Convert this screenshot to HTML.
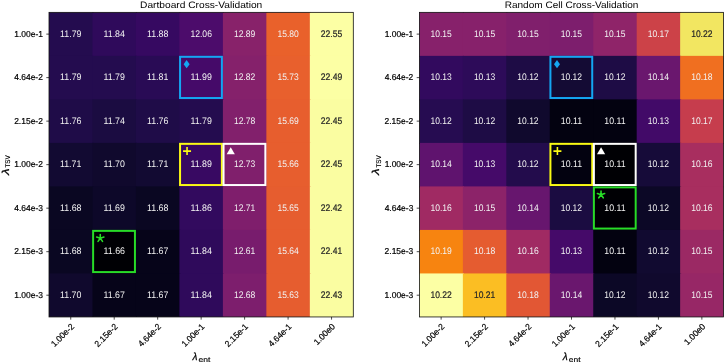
<!DOCTYPE html><html><head><meta charset="utf-8"><title>Cross-Validation heatmaps</title><style>html,body{margin:0;padding:0;background:#fff;width:725px;height:362px;overflow:hidden}svg{display:block;will-change:transform}text{font-family:"Liberation Sans",sans-serif;text-rendering:geometricPrecision}</style></head><body>
<svg width="725" height="362" viewBox="0 0 725 362">
<rect x="49.00" y="12.35" width="44.47" height="44.51" fill="#240c4f"/>
<rect x="92.47" y="12.35" width="44.47" height="44.51" fill="#2f0a5b"/>
<rect x="135.94" y="12.35" width="44.47" height="44.51" fill="#360961"/>
<rect x="179.41" y="12.35" width="44.47" height="44.51" fill="#4c0c6b"/>
<rect x="222.89" y="12.35" width="44.47" height="44.51" fill="#88226a"/>
<rect x="266.36" y="12.35" width="44.47" height="44.51" fill="#e9612b"/>
<rect x="309.83" y="12.35" width="43.47" height="44.51" fill="#fcffa4"/>
<rect x="49.00" y="55.86" width="44.47" height="44.51" fill="#240c4f"/>
<rect x="92.47" y="55.86" width="44.47" height="44.51" fill="#240c4f"/>
<rect x="135.94" y="55.86" width="44.47" height="44.51" fill="#290b55"/>
<rect x="179.41" y="55.86" width="44.47" height="44.51" fill="#450a69"/>
<rect x="222.89" y="55.86" width="44.47" height="44.51" fill="#85216b"/>
<rect x="266.36" y="55.86" width="44.47" height="44.51" fill="#e8602d"/>
<rect x="309.83" y="55.86" width="43.47" height="44.51" fill="#fcffa4"/>
<rect x="49.00" y="99.38" width="44.47" height="44.51" fill="#1f0c48"/>
<rect x="92.47" y="99.38" width="44.47" height="44.51" fill="#1b0c41"/>
<rect x="135.94" y="99.38" width="44.47" height="44.51" fill="#1f0c48"/>
<rect x="179.41" y="99.38" width="44.47" height="44.51" fill="#240c4f"/>
<rect x="222.89" y="99.38" width="44.47" height="44.51" fill="#82206c"/>
<rect x="266.36" y="99.38" width="44.47" height="44.51" fill="#e75e2e"/>
<rect x="309.83" y="99.38" width="43.47" height="44.51" fill="#fafda1"/>
<rect x="49.00" y="142.89" width="44.47" height="44.51" fill="#120a32"/>
<rect x="92.47" y="142.89" width="44.47" height="44.51" fill="#10092d"/>
<rect x="135.94" y="142.89" width="44.47" height="44.51" fill="#120a32"/>
<rect x="179.41" y="142.89" width="44.47" height="44.51" fill="#380962"/>
<rect x="222.89" y="142.89" width="44.47" height="44.51" fill="#801f6c"/>
<rect x="266.36" y="142.89" width="44.47" height="44.51" fill="#e75e2e"/>
<rect x="309.83" y="142.89" width="43.47" height="44.51" fill="#fafda1"/>
<rect x="49.00" y="186.41" width="44.47" height="44.51" fill="#0a0722"/>
<rect x="92.47" y="186.41" width="44.47" height="44.51" fill="#0d0829"/>
<rect x="135.94" y="186.41" width="44.47" height="44.51" fill="#0a0722"/>
<rect x="179.41" y="186.41" width="44.47" height="44.51" fill="#320a5e"/>
<rect x="222.89" y="186.41" width="44.47" height="44.51" fill="#7f1e6c"/>
<rect x="266.36" y="186.41" width="44.47" height="44.51" fill="#e65d2f"/>
<rect x="309.83" y="186.41" width="43.47" height="44.51" fill="#fafda1"/>
<rect x="49.00" y="229.92" width="44.47" height="44.51" fill="#0a0722"/>
<rect x="92.47" y="229.92" width="44.47" height="44.51" fill="#000004"/>
<rect x="135.94" y="229.92" width="44.47" height="44.51" fill="#060419"/>
<rect x="179.41" y="229.92" width="44.47" height="44.51" fill="#2f0a5b"/>
<rect x="222.89" y="229.92" width="44.47" height="44.51" fill="#781c6d"/>
<rect x="266.36" y="229.92" width="44.47" height="44.51" fill="#e65d2f"/>
<rect x="309.83" y="229.92" width="43.47" height="44.51" fill="#fafda1"/>
<rect x="49.00" y="273.44" width="44.47" height="43.51" fill="#10092d"/>
<rect x="92.47" y="273.44" width="44.47" height="43.51" fill="#060419"/>
<rect x="135.94" y="273.44" width="44.47" height="43.51" fill="#060419"/>
<rect x="179.41" y="273.44" width="44.47" height="43.51" fill="#2f0a5b"/>
<rect x="222.89" y="273.44" width="44.47" height="43.51" fill="#7d1e6d"/>
<rect x="266.36" y="273.44" width="44.47" height="43.51" fill="#e65d2f"/>
<rect x="309.83" y="273.44" width="43.47" height="43.51" fill="#fafda1"/>
<text x="60.03" y="36.53" font-size="9.50" fill="#f2f2f2" textLength="21.46" lengthAdjust="spacingAndGlyphs">11.79</text>
<text x="103.50" y="36.53" font-size="9.50" fill="#f2f2f2" textLength="21.44" lengthAdjust="spacingAndGlyphs">11.84</text>
<text x="146.97" y="36.53" font-size="9.50" fill="#f2f2f2" textLength="21.45" lengthAdjust="spacingAndGlyphs">11.88</text>
<text x="190.46" y="36.53" font-size="9.50" fill="#f2f2f2" textLength="21.45" lengthAdjust="spacingAndGlyphs">12.06</text>
<text x="233.94" y="36.53" font-size="9.50" fill="#f2f2f2" textLength="21.42" lengthAdjust="spacingAndGlyphs">12.89</text>
<text x="277.41" y="36.53" font-size="9.50" fill="#f2f2f2" textLength="21.37" lengthAdjust="spacingAndGlyphs">15.80</text>
<text x="320.83" y="36.53" font-size="9.50" fill="#262626" stroke="#262626" stroke-width="0.2" textLength="21.31" lengthAdjust="spacingAndGlyphs">22.55</text>
<text x="60.03" y="80.05" font-size="9.50" fill="#f2f2f2" textLength="21.46" lengthAdjust="spacingAndGlyphs">11.79</text>
<text x="103.50" y="80.05" font-size="9.50" fill="#f2f2f2" textLength="21.46" lengthAdjust="spacingAndGlyphs">11.79</text>
<text x="146.98" y="80.05" font-size="9.50" fill="#f2f2f2" textLength="21.30" lengthAdjust="spacingAndGlyphs">11.81</text>
<text x="190.44" y="80.05" font-size="9.50" fill="#f2f2f2" textLength="21.46" lengthAdjust="spacingAndGlyphs">11.99</text>
<text x="233.94" y="80.05" font-size="9.50" fill="#f2f2f2" textLength="21.22" lengthAdjust="spacingAndGlyphs">12.82</text>
<text x="277.41" y="80.05" font-size="9.50" fill="#f2f2f2" textLength="21.29" lengthAdjust="spacingAndGlyphs">15.73</text>
<text x="320.83" y="80.05" font-size="9.50" fill="#262626" stroke="#262626" stroke-width="0.2" textLength="21.47" lengthAdjust="spacingAndGlyphs">22.49</text>
<text x="60.03" y="123.56" font-size="9.50" fill="#f2f2f2" textLength="21.49" lengthAdjust="spacingAndGlyphs">11.76</text>
<text x="103.50" y="123.56" font-size="9.50" fill="#f2f2f2" textLength="21.44" lengthAdjust="spacingAndGlyphs">11.74</text>
<text x="146.97" y="123.56" font-size="9.50" fill="#f2f2f2" textLength="21.49" lengthAdjust="spacingAndGlyphs">11.76</text>
<text x="190.44" y="123.56" font-size="9.50" fill="#f2f2f2" textLength="21.46" lengthAdjust="spacingAndGlyphs">11.79</text>
<text x="233.94" y="123.56" font-size="9.50" fill="#f2f2f2" textLength="21.41" lengthAdjust="spacingAndGlyphs">12.78</text>
<text x="277.41" y="123.56" font-size="9.50" fill="#f2f2f2" textLength="21.42" lengthAdjust="spacingAndGlyphs">15.69</text>
<text x="320.83" y="123.56" font-size="9.50" fill="#262626" stroke="#262626" stroke-width="0.2" textLength="21.31" lengthAdjust="spacingAndGlyphs">22.45</text>
<text x="60.03" y="167.07" font-size="9.50" fill="#f2f2f2" textLength="21.30" lengthAdjust="spacingAndGlyphs">11.71</text>
<text x="103.50" y="167.07" font-size="9.50" fill="#f2f2f2" textLength="21.40" lengthAdjust="spacingAndGlyphs">11.70</text>
<text x="146.98" y="167.07" font-size="9.50" fill="#f2f2f2" textLength="21.30" lengthAdjust="spacingAndGlyphs">11.71</text>
<text x="190.44" y="167.07" font-size="9.50" fill="#f2f2f2" textLength="21.46" lengthAdjust="spacingAndGlyphs">11.89</text>
<text x="233.94" y="167.07" font-size="9.50" fill="#f2f2f2" textLength="21.29" lengthAdjust="spacingAndGlyphs">12.73</text>
<text x="277.41" y="167.07" font-size="9.50" fill="#f2f2f2" textLength="21.45" lengthAdjust="spacingAndGlyphs">15.66</text>
<text x="320.83" y="167.07" font-size="9.50" fill="#262626" stroke="#262626" stroke-width="0.2" textLength="21.31" lengthAdjust="spacingAndGlyphs">22.45</text>
<text x="60.03" y="210.59" font-size="9.50" fill="#f2f2f2" textLength="21.45" lengthAdjust="spacingAndGlyphs">11.68</text>
<text x="103.50" y="210.59" font-size="9.50" fill="#f2f2f2" textLength="21.46" lengthAdjust="spacingAndGlyphs">11.69</text>
<text x="146.97" y="210.59" font-size="9.50" fill="#f2f2f2" textLength="21.45" lengthAdjust="spacingAndGlyphs">11.68</text>
<text x="190.44" y="210.59" font-size="9.50" fill="#f2f2f2" textLength="21.49" lengthAdjust="spacingAndGlyphs">11.86</text>
<text x="233.94" y="210.59" font-size="9.50" fill="#f2f2f2" textLength="21.26" lengthAdjust="spacingAndGlyphs">12.71</text>
<text x="277.41" y="210.59" font-size="9.50" fill="#f2f2f2" textLength="21.25" lengthAdjust="spacingAndGlyphs">15.65</text>
<text x="320.83" y="210.59" font-size="9.50" fill="#262626" stroke="#262626" stroke-width="0.2" textLength="21.28" lengthAdjust="spacingAndGlyphs">22.42</text>
<text x="60.03" y="254.10" font-size="9.50" fill="#f2f2f2" textLength="21.45" lengthAdjust="spacingAndGlyphs">11.68</text>
<text x="103.50" y="254.10" font-size="9.50" fill="#f2f2f2" textLength="21.49" lengthAdjust="spacingAndGlyphs">11.66</text>
<text x="146.98" y="254.10" font-size="9.50" fill="#f2f2f2" textLength="21.38" lengthAdjust="spacingAndGlyphs">11.67</text>
<text x="190.44" y="254.10" font-size="9.50" fill="#f2f2f2" textLength="21.44" lengthAdjust="spacingAndGlyphs">11.84</text>
<text x="233.94" y="254.10" font-size="9.50" fill="#f2f2f2" textLength="21.26" lengthAdjust="spacingAndGlyphs">12.61</text>
<text x="277.41" y="254.10" font-size="9.50" fill="#f2f2f2" textLength="21.40" lengthAdjust="spacingAndGlyphs">15.64</text>
<text x="320.83" y="254.10" font-size="9.50" fill="#262626" stroke="#262626" stroke-width="0.2" textLength="21.31" lengthAdjust="spacingAndGlyphs">22.41</text>
<text x="60.03" y="297.62" font-size="9.50" fill="#f2f2f2" textLength="21.40" lengthAdjust="spacingAndGlyphs">11.70</text>
<text x="103.50" y="297.62" font-size="9.50" fill="#f2f2f2" textLength="21.38" lengthAdjust="spacingAndGlyphs">11.67</text>
<text x="146.98" y="297.62" font-size="9.50" fill="#f2f2f2" textLength="21.38" lengthAdjust="spacingAndGlyphs">11.67</text>
<text x="190.44" y="297.62" font-size="9.50" fill="#f2f2f2" textLength="21.44" lengthAdjust="spacingAndGlyphs">11.84</text>
<text x="233.94" y="297.62" font-size="9.50" fill="#f2f2f2" textLength="21.41" lengthAdjust="spacingAndGlyphs">12.68</text>
<text x="277.41" y="297.62" font-size="9.50" fill="#f2f2f2" textLength="21.29" lengthAdjust="spacingAndGlyphs">15.63</text>
<text x="320.83" y="297.62" font-size="9.50" fill="#262626" stroke="#262626" stroke-width="0.2" textLength="21.35" lengthAdjust="spacingAndGlyphs">22.43</text>
<rect x="49.00" y="12.35" width="304.3" height="304.6" fill="none" stroke="#111" stroke-width="0.8"/>
<text x="140.07" y="7.75" font-size="9.40" fill="#000" textLength="122.19" lengthAdjust="spacingAndGlyphs">Dartboard Cross-Validation</text>
<line x1="46.30" y1="34.11" x2="49.00" y2="34.11" stroke="#000" stroke-width="0.7"/>
<text x="14.23" y="36.87" font-size="8.60" fill="#000" stroke="#000" stroke-width="0.2" textLength="28.69" lengthAdjust="spacingAndGlyphs">1.00e-1</text>
<line x1="46.30" y1="77.62" x2="49.00" y2="77.62" stroke="#000" stroke-width="0.7"/>
<text x="14.23" y="80.38" font-size="8.60" fill="#000" stroke="#000" stroke-width="0.2" textLength="28.65" lengthAdjust="spacingAndGlyphs">4.64e-2</text>
<line x1="46.30" y1="121.14" x2="49.00" y2="121.14" stroke="#000" stroke-width="0.7"/>
<text x="14.17" y="123.90" font-size="8.60" fill="#000" stroke="#000" stroke-width="0.2" textLength="28.72" lengthAdjust="spacingAndGlyphs">2.15e-2</text>
<line x1="46.30" y1="164.65" x2="49.00" y2="164.65" stroke="#000" stroke-width="0.7"/>
<text x="14.23" y="167.41" font-size="8.60" fill="#000" stroke="#000" stroke-width="0.2" textLength="28.66" lengthAdjust="spacingAndGlyphs">1.00e-2</text>
<line x1="46.30" y1="208.16" x2="49.00" y2="208.16" stroke="#000" stroke-width="0.7"/>
<text x="14.23" y="210.92" font-size="8.60" fill="#000" stroke="#000" stroke-width="0.2" textLength="28.72" lengthAdjust="spacingAndGlyphs">4.64e-3</text>
<line x1="46.30" y1="251.68" x2="49.00" y2="251.68" stroke="#000" stroke-width="0.7"/>
<text x="14.17" y="254.44" font-size="8.60" fill="#000" stroke="#000" stroke-width="0.2" textLength="28.78" lengthAdjust="spacingAndGlyphs">2.15e-3</text>
<line x1="46.30" y1="295.19" x2="49.00" y2="295.19" stroke="#000" stroke-width="0.7"/>
<text x="14.22" y="297.95" font-size="8.60" fill="#000" stroke="#000" stroke-width="0.2" textLength="28.73" lengthAdjust="spacingAndGlyphs">1.00e-3</text>
<line x1="70.74" y1="316.95" x2="70.74" y2="319.65" stroke="#000" stroke-width="0.7"/>
<g transform="translate(70.89,322.80) rotate(-45)"><text x="-28.97" y="5.78" font-size="8.60" fill="#000" stroke="#000" stroke-width="0.2" textLength="28.66" lengthAdjust="spacingAndGlyphs">1.00e-2</text></g>
<line x1="114.21" y1="316.95" x2="114.21" y2="319.65" stroke="#000" stroke-width="0.7"/>
<g transform="translate(114.36,322.80) rotate(-45)"><text x="-29.03" y="5.78" font-size="8.60" fill="#000" stroke="#000" stroke-width="0.2" textLength="28.72" lengthAdjust="spacingAndGlyphs">2.15e-2</text></g>
<line x1="157.68" y1="316.95" x2="157.68" y2="319.65" stroke="#000" stroke-width="0.7"/>
<g transform="translate(157.83,322.80) rotate(-45)"><text x="-28.97" y="5.78" font-size="8.60" fill="#000" stroke="#000" stroke-width="0.2" textLength="28.65" lengthAdjust="spacingAndGlyphs">4.64e-2</text></g>
<line x1="201.15" y1="316.95" x2="201.15" y2="319.65" stroke="#000" stroke-width="0.7"/>
<g transform="translate(201.30,322.80) rotate(-45)"><text x="-28.97" y="5.78" font-size="8.60" fill="#000" stroke="#000" stroke-width="0.2" textLength="28.69" lengthAdjust="spacingAndGlyphs">1.00e-1</text></g>
<line x1="244.62" y1="316.95" x2="244.62" y2="319.65" stroke="#000" stroke-width="0.7"/>
<g transform="translate(244.77,322.80) rotate(-45)"><text x="-29.03" y="5.78" font-size="8.60" fill="#000" stroke="#000" stroke-width="0.2" textLength="28.75" lengthAdjust="spacingAndGlyphs">2.15e-1</text></g>
<line x1="288.09" y1="316.95" x2="288.09" y2="319.65" stroke="#000" stroke-width="0.7"/>
<g transform="translate(288.24,322.80) rotate(-45)"><text x="-28.97" y="5.78" font-size="8.60" fill="#000" stroke="#000" stroke-width="0.2" textLength="28.68" lengthAdjust="spacingAndGlyphs">4.64e-1</text></g>
<line x1="331.56" y1="316.95" x2="331.56" y2="319.65" stroke="#000" stroke-width="0.7"/>
<g transform="translate(331.71,322.80) rotate(-45)"><text x="-26.24" y="5.78" font-size="8.60" fill="#000" stroke="#000" stroke-width="0.2" textLength="26.00" lengthAdjust="spacingAndGlyphs">1.00e0</text></g>
<text x="192.45" y="359.60" font-size="10.40" font-style="italic" fill="#000" stroke="#000" stroke-width="0.25" textLength="4.97" lengthAdjust="spacingAndGlyphs">λ</text>
<text x="198.46" y="361.60" font-size="7.20" fill="#000" stroke="#000" stroke-width="0.15" textLength="11.83" lengthAdjust="spacingAndGlyphs">ent</text>
<g transform="translate(8.60,175.8) rotate(-90)"><text x="0.90" y="0.00" font-size="10.00" font-style="italic" fill="#000" stroke="#000" stroke-width="0.25" textLength="6.60" lengthAdjust="spacingAndGlyphs">λ</text><text x="8.28" y="1.60" font-size="6.80" fill="#000" stroke="#000" stroke-width="0.15" textLength="12.16" lengthAdjust="spacingAndGlyphs">TSV</text></g>
<rect x="419.40" y="12.35" width="44.46" height="44.51" fill="#87216b"/>
<rect x="462.86" y="12.35" width="44.46" height="44.51" fill="#87216b"/>
<rect x="506.31" y="12.35" width="44.46" height="44.51" fill="#801f6c"/>
<rect x="549.77" y="12.35" width="44.46" height="44.51" fill="#7d1e6d"/>
<rect x="593.23" y="12.35" width="44.46" height="44.51" fill="#8f2469"/>
<rect x="636.69" y="12.35" width="44.46" height="44.51" fill="#cc4248"/>
<rect x="680.14" y="12.35" width="43.46" height="44.51" fill="#f2e661"/>
<rect x="419.40" y="55.86" width="44.46" height="44.51" fill="#320a5e"/>
<rect x="462.86" y="55.86" width="44.46" height="44.51" fill="#2d0b59"/>
<rect x="506.31" y="55.86" width="44.46" height="44.51" fill="#1e0c45"/>
<rect x="549.77" y="55.86" width="44.46" height="44.51" fill="#140b34"/>
<rect x="593.23" y="55.86" width="44.46" height="44.51" fill="#1e0c45"/>
<rect x="636.69" y="55.86" width="44.46" height="44.51" fill="#6a176e"/>
<rect x="680.14" y="55.86" width="43.46" height="44.51" fill="#f06f20"/>
<rect x="419.40" y="99.38" width="44.46" height="44.51" fill="#260c51"/>
<rect x="462.86" y="99.38" width="44.46" height="44.51" fill="#1e0c45"/>
<rect x="506.31" y="99.38" width="44.46" height="44.51" fill="#10092d"/>
<rect x="549.77" y="99.38" width="44.46" height="44.51" fill="#030210"/>
<rect x="593.23" y="99.38" width="44.46" height="44.51" fill="#030210"/>
<rect x="636.69" y="99.38" width="44.46" height="44.51" fill="#420a68"/>
<rect x="680.14" y="99.38" width="43.46" height="44.51" fill="#c63d4d"/>
<rect x="419.40" y="142.89" width="44.46" height="44.51" fill="#5f136e"/>
<rect x="462.86" y="142.89" width="44.46" height="44.51" fill="#450a69"/>
<rect x="506.31" y="142.89" width="44.46" height="44.51" fill="#230c4c"/>
<rect x="549.77" y="142.89" width="44.46" height="44.51" fill="#030210"/>
<rect x="593.23" y="142.89" width="44.46" height="44.51" fill="#000004"/>
<rect x="636.69" y="142.89" width="44.46" height="44.51" fill="#160b39"/>
<rect x="680.14" y="142.89" width="43.46" height="44.51" fill="#a82e5f"/>
<rect x="419.40" y="186.41" width="44.46" height="44.51" fill="#a02a63"/>
<rect x="462.86" y="186.41" width="44.46" height="44.51" fill="#8c2369"/>
<rect x="506.31" y="186.41" width="44.46" height="44.51" fill="#67166e"/>
<rect x="549.77" y="186.41" width="44.46" height="44.51" fill="#1b0c41"/>
<rect x="593.23" y="186.41" width="44.46" height="44.51" fill="#000004"/>
<rect x="636.69" y="186.41" width="44.46" height="44.51" fill="#0c0826"/>
<rect x="680.14" y="186.41" width="43.46" height="44.51" fill="#a82e5f"/>
<rect x="419.40" y="229.92" width="44.46" height="44.51" fill="#f78410"/>
<rect x="462.86" y="229.92" width="44.46" height="44.51" fill="#e55c30"/>
<rect x="506.31" y="229.92" width="44.46" height="44.51" fill="#a02a63"/>
<rect x="549.77" y="229.92" width="44.46" height="44.51" fill="#450a69"/>
<rect x="593.23" y="229.92" width="44.46" height="44.51" fill="#030210"/>
<rect x="636.69" y="229.92" width="44.46" height="44.51" fill="#110a30"/>
<rect x="680.14" y="229.92" width="43.46" height="44.51" fill="#9b2964"/>
<rect x="419.40" y="273.44" width="44.46" height="43.51" fill="#fcffa4"/>
<rect x="462.86" y="273.44" width="44.46" height="43.51" fill="#fbbe23"/>
<rect x="506.31" y="273.44" width="44.46" height="43.51" fill="#e25734"/>
<rect x="549.77" y="273.44" width="44.46" height="43.51" fill="#6a176e"/>
<rect x="593.23" y="273.44" width="44.46" height="43.51" fill="#0c0826"/>
<rect x="636.69" y="273.44" width="44.46" height="43.51" fill="#10092d"/>
<rect x="680.14" y="273.44" width="43.46" height="43.51" fill="#972766"/>
<text x="430.45" y="36.53" font-size="9.50" fill="#f2f2f2" textLength="21.25" lengthAdjust="spacingAndGlyphs">10.15</text>
<text x="473.91" y="36.53" font-size="9.50" fill="#f2f2f2" textLength="21.25" lengthAdjust="spacingAndGlyphs">10.15</text>
<text x="517.36" y="36.53" font-size="9.50" fill="#f2f2f2" textLength="21.25" lengthAdjust="spacingAndGlyphs">10.15</text>
<text x="560.82" y="36.53" font-size="9.50" fill="#f2f2f2" textLength="21.25" lengthAdjust="spacingAndGlyphs">10.15</text>
<text x="604.28" y="36.53" font-size="9.50" fill="#f2f2f2" textLength="21.25" lengthAdjust="spacingAndGlyphs">10.15</text>
<text x="647.73" y="36.53" font-size="9.50" fill="#f2f2f2" textLength="21.34" lengthAdjust="spacingAndGlyphs">10.17</text>
<text x="691.19" y="36.53" font-size="9.50" fill="#262626" stroke="#262626" stroke-width="0.2" textLength="21.22" lengthAdjust="spacingAndGlyphs">10.22</text>
<text x="430.45" y="80.05" font-size="9.50" fill="#f2f2f2" textLength="21.29" lengthAdjust="spacingAndGlyphs">10.13</text>
<text x="473.90" y="80.05" font-size="9.50" fill="#f2f2f2" textLength="21.29" lengthAdjust="spacingAndGlyphs">10.13</text>
<text x="517.36" y="80.05" font-size="9.50" fill="#f2f2f2" textLength="21.22" lengthAdjust="spacingAndGlyphs">10.12</text>
<text x="560.82" y="80.05" font-size="9.50" fill="#f2f2f2" textLength="21.22" lengthAdjust="spacingAndGlyphs">10.12</text>
<text x="604.28" y="80.05" font-size="9.50" fill="#f2f2f2" textLength="21.22" lengthAdjust="spacingAndGlyphs">10.12</text>
<text x="647.73" y="80.05" font-size="9.50" fill="#f2f2f2" textLength="21.40" lengthAdjust="spacingAndGlyphs">10.14</text>
<text x="691.19" y="80.05" font-size="9.50" fill="#f2f2f2" textLength="21.41" lengthAdjust="spacingAndGlyphs">10.18</text>
<text x="430.45" y="123.56" font-size="9.50" fill="#f2f2f2" textLength="21.22" lengthAdjust="spacingAndGlyphs">10.12</text>
<text x="473.91" y="123.56" font-size="9.50" fill="#f2f2f2" textLength="21.22" lengthAdjust="spacingAndGlyphs">10.12</text>
<text x="517.36" y="123.56" font-size="9.50" fill="#f2f2f2" textLength="21.22" lengthAdjust="spacingAndGlyphs">10.12</text>
<text x="560.80" y="123.56" font-size="9.50" fill="#f2f2f2" textLength="21.30" lengthAdjust="spacingAndGlyphs">10.11</text>
<text x="604.26" y="123.56" font-size="9.50" fill="#f2f2f2" textLength="21.30" lengthAdjust="spacingAndGlyphs">10.11</text>
<text x="647.73" y="123.56" font-size="9.50" fill="#f2f2f2" textLength="21.29" lengthAdjust="spacingAndGlyphs">10.13</text>
<text x="691.19" y="123.56" font-size="9.50" fill="#f2f2f2" textLength="21.34" lengthAdjust="spacingAndGlyphs">10.17</text>
<text x="430.44" y="167.07" font-size="9.50" fill="#f2f2f2" textLength="21.40" lengthAdjust="spacingAndGlyphs">10.14</text>
<text x="473.90" y="167.07" font-size="9.50" fill="#f2f2f2" textLength="21.29" lengthAdjust="spacingAndGlyphs">10.13</text>
<text x="517.36" y="167.07" font-size="9.50" fill="#f2f2f2" textLength="21.22" lengthAdjust="spacingAndGlyphs">10.12</text>
<text x="560.80" y="167.07" font-size="9.50" fill="#f2f2f2" textLength="21.30" lengthAdjust="spacingAndGlyphs">10.11</text>
<text x="604.26" y="167.07" font-size="9.50" fill="#f2f2f2" textLength="21.30" lengthAdjust="spacingAndGlyphs">10.11</text>
<text x="647.74" y="167.07" font-size="9.50" fill="#f2f2f2" textLength="21.22" lengthAdjust="spacingAndGlyphs">10.12</text>
<text x="691.19" y="167.07" font-size="9.50" fill="#f2f2f2" textLength="21.45" lengthAdjust="spacingAndGlyphs">10.16</text>
<text x="430.44" y="210.59" font-size="9.50" fill="#f2f2f2" textLength="21.45" lengthAdjust="spacingAndGlyphs">10.16</text>
<text x="473.91" y="210.59" font-size="9.50" fill="#f2f2f2" textLength="21.25" lengthAdjust="spacingAndGlyphs">10.15</text>
<text x="517.36" y="210.59" font-size="9.50" fill="#f2f2f2" textLength="21.40" lengthAdjust="spacingAndGlyphs">10.14</text>
<text x="560.82" y="210.59" font-size="9.50" fill="#f2f2f2" textLength="21.22" lengthAdjust="spacingAndGlyphs">10.12</text>
<text x="604.26" y="210.59" font-size="9.50" fill="#f2f2f2" textLength="21.30" lengthAdjust="spacingAndGlyphs">10.11</text>
<text x="647.74" y="210.59" font-size="9.50" fill="#f2f2f2" textLength="21.22" lengthAdjust="spacingAndGlyphs">10.12</text>
<text x="691.19" y="210.59" font-size="9.50" fill="#f2f2f2" textLength="21.45" lengthAdjust="spacingAndGlyphs">10.16</text>
<text x="430.44" y="254.10" font-size="9.50" fill="#f2f2f2" textLength="21.42" lengthAdjust="spacingAndGlyphs">10.19</text>
<text x="473.90" y="254.10" font-size="9.50" fill="#f2f2f2" textLength="21.41" lengthAdjust="spacingAndGlyphs">10.18</text>
<text x="517.36" y="254.10" font-size="9.50" fill="#f2f2f2" textLength="21.45" lengthAdjust="spacingAndGlyphs">10.16</text>
<text x="560.82" y="254.10" font-size="9.50" fill="#f2f2f2" textLength="21.29" lengthAdjust="spacingAndGlyphs">10.13</text>
<text x="604.26" y="254.10" font-size="9.50" fill="#f2f2f2" textLength="21.30" lengthAdjust="spacingAndGlyphs">10.11</text>
<text x="647.74" y="254.10" font-size="9.50" fill="#f2f2f2" textLength="21.22" lengthAdjust="spacingAndGlyphs">10.12</text>
<text x="691.19" y="254.10" font-size="9.50" fill="#f2f2f2" textLength="21.25" lengthAdjust="spacingAndGlyphs">10.15</text>
<text x="430.45" y="297.62" font-size="9.50" fill="#262626" stroke="#262626" stroke-width="0.2" textLength="21.22" lengthAdjust="spacingAndGlyphs">10.22</text>
<text x="473.91" y="297.62" font-size="9.50" fill="#262626" stroke="#262626" stroke-width="0.2" textLength="21.26" lengthAdjust="spacingAndGlyphs">10.21</text>
<text x="517.36" y="297.62" font-size="9.50" fill="#f2f2f2" textLength="21.41" lengthAdjust="spacingAndGlyphs">10.18</text>
<text x="560.82" y="297.62" font-size="9.50" fill="#f2f2f2" textLength="21.40" lengthAdjust="spacingAndGlyphs">10.14</text>
<text x="604.28" y="297.62" font-size="9.50" fill="#f2f2f2" textLength="21.22" lengthAdjust="spacingAndGlyphs">10.12</text>
<text x="647.74" y="297.62" font-size="9.50" fill="#f2f2f2" textLength="21.22" lengthAdjust="spacingAndGlyphs">10.12</text>
<text x="691.19" y="297.62" font-size="9.50" fill="#f2f2f2" textLength="21.25" lengthAdjust="spacingAndGlyphs">10.15</text>
<rect x="419.40" y="12.35" width="304.2" height="304.6" fill="none" stroke="#111" stroke-width="0.8"/>
<text x="504.70" y="7.75" font-size="9.40" fill="#000" textLength="133.63" lengthAdjust="spacingAndGlyphs">Random Cell Cross-Validation</text>
<line x1="416.70" y1="34.11" x2="419.40" y2="34.11" stroke="#000" stroke-width="0.7"/>
<text x="384.63" y="36.87" font-size="8.60" fill="#000" stroke="#000" stroke-width="0.2" textLength="28.69" lengthAdjust="spacingAndGlyphs">1.00e-1</text>
<line x1="416.70" y1="77.62" x2="419.40" y2="77.62" stroke="#000" stroke-width="0.7"/>
<text x="384.63" y="80.38" font-size="8.60" fill="#000" stroke="#000" stroke-width="0.2" textLength="28.65" lengthAdjust="spacingAndGlyphs">4.64e-2</text>
<line x1="416.70" y1="121.14" x2="419.40" y2="121.14" stroke="#000" stroke-width="0.7"/>
<text x="384.57" y="123.90" font-size="8.60" fill="#000" stroke="#000" stroke-width="0.2" textLength="28.72" lengthAdjust="spacingAndGlyphs">2.15e-2</text>
<line x1="416.70" y1="164.65" x2="419.40" y2="164.65" stroke="#000" stroke-width="0.7"/>
<text x="384.63" y="167.41" font-size="8.60" fill="#000" stroke="#000" stroke-width="0.2" textLength="28.66" lengthAdjust="spacingAndGlyphs">1.00e-2</text>
<line x1="416.70" y1="208.16" x2="419.40" y2="208.16" stroke="#000" stroke-width="0.7"/>
<text x="384.63" y="210.92" font-size="8.60" fill="#000" stroke="#000" stroke-width="0.2" textLength="28.72" lengthAdjust="spacingAndGlyphs">4.64e-3</text>
<line x1="416.70" y1="251.68" x2="419.40" y2="251.68" stroke="#000" stroke-width="0.7"/>
<text x="384.57" y="254.44" font-size="8.60" fill="#000" stroke="#000" stroke-width="0.2" textLength="28.78" lengthAdjust="spacingAndGlyphs">2.15e-3</text>
<line x1="416.70" y1="295.19" x2="419.40" y2="295.19" stroke="#000" stroke-width="0.7"/>
<text x="384.62" y="297.95" font-size="8.60" fill="#000" stroke="#000" stroke-width="0.2" textLength="28.73" lengthAdjust="spacingAndGlyphs">1.00e-3</text>
<line x1="441.13" y1="316.95" x2="441.13" y2="319.65" stroke="#000" stroke-width="0.7"/>
<g transform="translate(441.28,322.80) rotate(-45)"><text x="-28.97" y="5.78" font-size="8.60" fill="#000" stroke="#000" stroke-width="0.2" textLength="28.66" lengthAdjust="spacingAndGlyphs">1.00e-2</text></g>
<line x1="484.59" y1="316.95" x2="484.59" y2="319.65" stroke="#000" stroke-width="0.7"/>
<g transform="translate(484.74,322.80) rotate(-45)"><text x="-29.03" y="5.78" font-size="8.60" fill="#000" stroke="#000" stroke-width="0.2" textLength="28.72" lengthAdjust="spacingAndGlyphs">2.15e-2</text></g>
<line x1="528.04" y1="316.95" x2="528.04" y2="319.65" stroke="#000" stroke-width="0.7"/>
<g transform="translate(528.19,322.80) rotate(-45)"><text x="-28.97" y="5.78" font-size="8.60" fill="#000" stroke="#000" stroke-width="0.2" textLength="28.65" lengthAdjust="spacingAndGlyphs">4.64e-2</text></g>
<line x1="571.50" y1="316.95" x2="571.50" y2="319.65" stroke="#000" stroke-width="0.7"/>
<g transform="translate(571.65,322.80) rotate(-45)"><text x="-28.97" y="5.78" font-size="8.60" fill="#000" stroke="#000" stroke-width="0.2" textLength="28.69" lengthAdjust="spacingAndGlyphs">1.00e-1</text></g>
<line x1="614.96" y1="316.95" x2="614.96" y2="319.65" stroke="#000" stroke-width="0.7"/>
<g transform="translate(615.11,322.80) rotate(-45)"><text x="-29.03" y="5.78" font-size="8.60" fill="#000" stroke="#000" stroke-width="0.2" textLength="28.75" lengthAdjust="spacingAndGlyphs">2.15e-1</text></g>
<line x1="658.41" y1="316.95" x2="658.41" y2="319.65" stroke="#000" stroke-width="0.7"/>
<g transform="translate(658.56,322.80) rotate(-45)"><text x="-28.97" y="5.78" font-size="8.60" fill="#000" stroke="#000" stroke-width="0.2" textLength="28.68" lengthAdjust="spacingAndGlyphs">4.64e-1</text></g>
<line x1="701.87" y1="316.95" x2="701.87" y2="319.65" stroke="#000" stroke-width="0.7"/>
<g transform="translate(702.02,322.80) rotate(-45)"><text x="-26.24" y="5.78" font-size="8.60" fill="#000" stroke="#000" stroke-width="0.2" textLength="26.00" lengthAdjust="spacingAndGlyphs">1.00e0</text></g>
<text x="562.80" y="359.60" font-size="10.40" font-style="italic" fill="#000" stroke="#000" stroke-width="0.25" textLength="4.97" lengthAdjust="spacingAndGlyphs">λ</text>
<text x="568.81" y="361.60" font-size="7.20" fill="#000" stroke="#000" stroke-width="0.15" textLength="11.83" lengthAdjust="spacingAndGlyphs">ent</text>
<g transform="translate(379.00,175.8) rotate(-90)"><text x="0.90" y="0.00" font-size="10.00" font-style="italic" fill="#000" stroke="#000" stroke-width="0.25" textLength="6.60" lengthAdjust="spacingAndGlyphs">λ</text><text x="8.28" y="1.60" font-size="6.80" fill="#000" stroke="#000" stroke-width="0.15" textLength="12.16" lengthAdjust="spacingAndGlyphs">TSV</text></g>
<rect x="180.06" y="56.81" width="41.82" height="41.21" fill="none" stroke="#14a6f2" stroke-width="2.0"/>
<path d="M186.61,60.11 L189.61,64.21 L186.61,68.31 L183.61,64.21Z" fill="#14a6f2"/>
<rect x="180.06" y="143.84" width="41.82" height="41.21" fill="none" stroke="#fafa14" stroke-width="2.0"/>
<path d="M183.05,151.09H191.05M187.05,147.09V155.09" stroke="#fafa14" stroke-width="1.6" fill="none"/>
<rect x="223.54" y="143.84" width="41.82" height="41.21" fill="none" stroke="#ffffff" stroke-width="2.0"/>
<path d="M230.75,147.34 L234.85,154.24 L226.65,154.24Z" fill="#ffffff"/>
<rect x="93.12" y="230.87" width="41.82" height="41.21" fill="none" stroke="#28dc28" stroke-width="2.0"/>
<path d="M100.27,238.27L100.27,234.47M100.27,238.27L103.89,237.10M100.27,238.27L102.51,241.35M100.27,238.27L98.04,241.35M100.27,238.27L96.66,237.10" stroke="#28dc28" stroke-width="1.6" stroke-linecap="round" fill="none"/>
<rect x="550.42" y="56.81" width="41.81" height="41.21" fill="none" stroke="#14a6f2" stroke-width="2.0"/>
<path d="M556.97,60.11 L559.97,64.21 L556.97,68.31 L553.97,64.21Z" fill="#14a6f2"/>
<rect x="550.42" y="143.84" width="41.81" height="41.21" fill="none" stroke="#fafa14" stroke-width="2.0"/>
<path d="M553.41,151.09H561.41M557.41,147.09V155.09" stroke="#fafa14" stroke-width="1.6" fill="none"/>
<rect x="593.88" y="143.84" width="41.81" height="41.21" fill="none" stroke="#ffffff" stroke-width="2.0"/>
<path d="M601.09,147.34 L605.19,154.24 L596.99,154.24Z" fill="#ffffff"/>
<rect x="593.88" y="187.36" width="41.81" height="41.21" fill="none" stroke="#28dc28" stroke-width="2.0"/>
<path d="M601.03,194.76L601.03,190.96M601.03,194.76L604.64,193.58M601.03,194.76L603.26,197.83M601.03,194.76L598.79,197.83M601.03,194.76L597.41,193.58" stroke="#28dc28" stroke-width="1.6" stroke-linecap="round" fill="none"/>
</svg></body></html>
